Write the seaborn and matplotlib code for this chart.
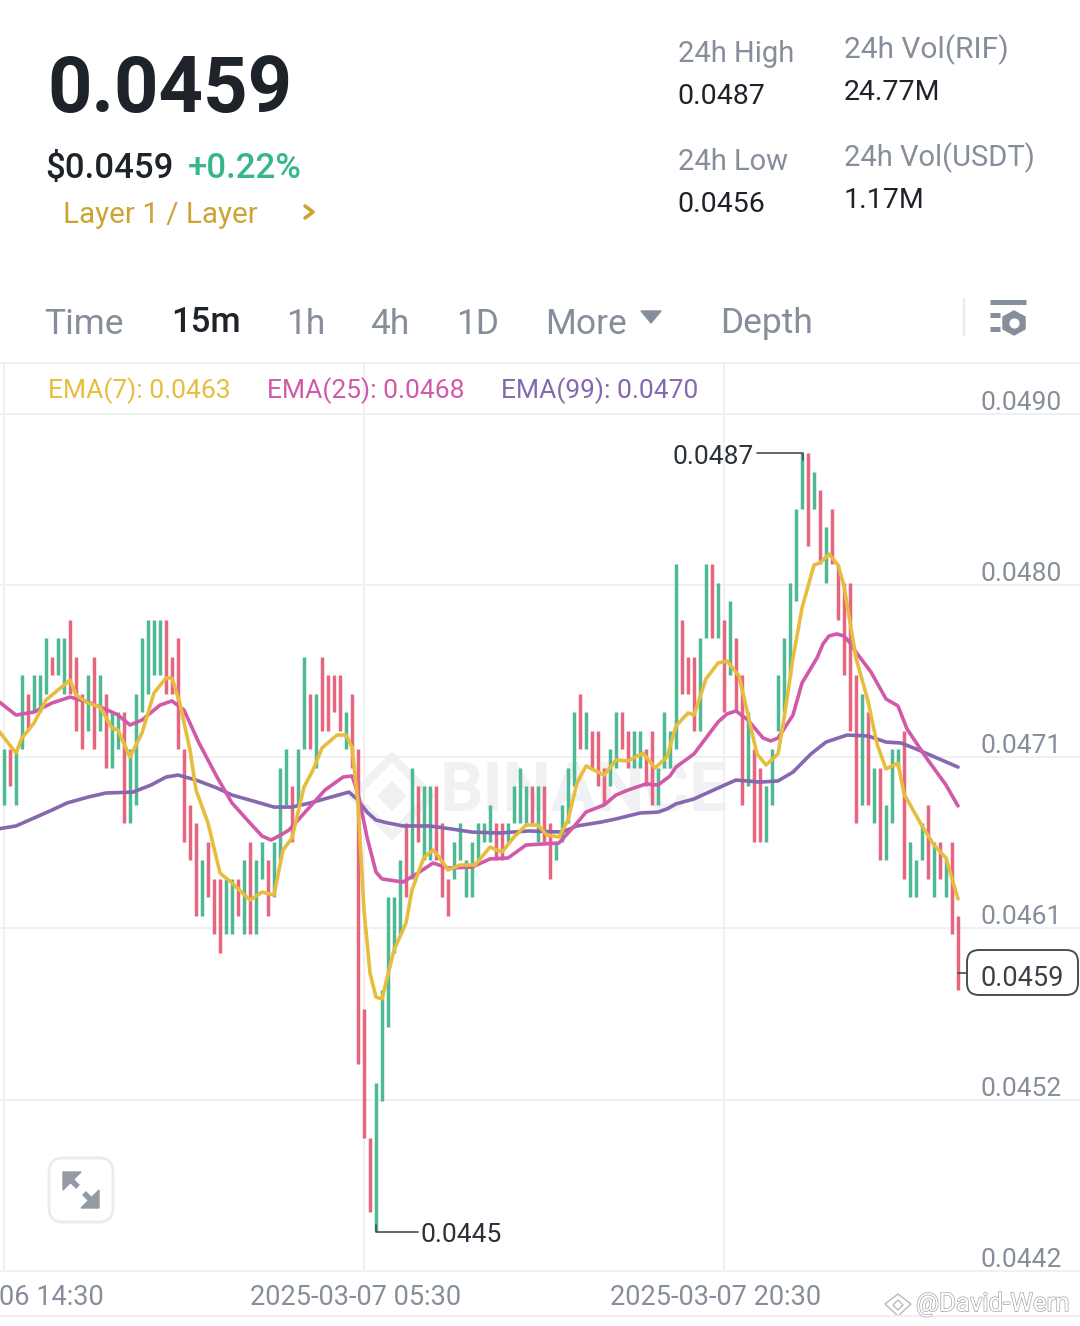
import matplotlib
matplotlib.use("Agg")
import matplotlib.patheffects as pe
import matplotlib.pyplot as plt
import pandas as pd
import seaborn as sns
from matplotlib.patches import FancyBboxPatch, Polygon
from matplotlib.transforms import ScaledTranslation

GREEN = "#4fb895"
RED = "#e6667f"
YELLOW = "#e7bd3d"
MAGENTA = "#d259a9"
PURPLE = "#8667b0"
GRID = "#eef0f2"
GREY = "#858e9a"
DARK = "#1e2329"
GOLD = "#cda434"

# one entry per 15m candle
candle_high = [
    .0471, .0471, .0471, .0475, .0474, .0475, .0475, .0477, .0476, .0477,
    .0477, .0478, .0476, .0474, .0475, .0476, .0475, .0474, .0473, .0473,
    .0473, .0471, .0474, .0477, .0478, .0478, .0478, .0478, .0476, .0477,
    .0471, .0468, .0467, .0465, .0466, .0464, .0464, .0464, .0464, .0464,
    .0465, .0466, .0465, .0466, .0465, .0466, .0470, .0471, .0469, .0471,
    .0476, .0474, .0474, .0476, .0475, .0475, .0475, .0473, .0474, .0471,
    .0457, .0450, .0453, .0458, .0463, .0463, .0465, .0467, .0470, .0469,
    .0469, .0469, .0469, .0467, .0464, .0466, .0467, .0465, .0466, .0467,
    .0467, .0468, .0467, .0467, .0467, .0469, .0470, .0469, .0469, .0469,
    .0469, .0467, .0466, .0468, .0470, .0473, .0474, .0473, .0472, .0472,
    .0470, .0471, .0473, .0473, .0472, .0472, .0472, .0471, .0472, .0470,
    .0473, .0472, .0481, .0478, .0476, .0476, .0477, .0481, .0481, .0480,
    .0478, .0479, .0477, .0475, .0473, .0471, .0470, .0469, .0471, .0475,
    .0477, .0480, .0484, .0487, .0487, .0486, .0485, .0483, .0484, .0481,
    .0480, .0480, .0475, .0474, .0473, .0470, .0470, .0468, .0471, .0471,
    .0472, .0466, .0465, .0467, .0468, .0466, .0466, .0465, .0466, .0462,
]
candle_low = [
    .0468, .0469, .0468, .0471, .0472, .0473, .0473, .0474, .0475, .0475,
    .0474, .0474, .0472, .0471, .0472, .0471, .0472, .0470, .0470, .0471,
    .0467, .0467, .0468, .0473, .0474, .0475, .0475, .0474, .0474, .0471,
    .0466, .0465, .0462, .0462, .0463, .0461, .0460, .0461, .0461, .0462,
    .0461, .0461, .0461, .0464, .0462, .0463, .0465, .0468, .0466, .0468,
    .0471, .0471, .0470, .0472, .0472, .0473, .0472, .0471, .0470, .0454,
    .0450, .0446, .0445, .0452, .0456, .0460, .0461, .0463, .0464, .0466,
    .0465, .0465, .0465, .0463, .0462, .0464, .0465, .0463, .0463, .0465,
    .0466, .0466, .0465, .0465, .0466, .0467, .0467, .0467, .0467, .0466,
    .0466, .0464, .0465, .0466, .0467, .0469, .0471, .0471, .0470, .0469,
    .0468, .0469, .0470, .0471, .0470, .0470, .0470, .0469, .0468, .0468,
    .0470, .0470, .0471, .0474, .0474, .0472, .0472, .0477, .0477, .0477,
    .0473, .0475, .0473, .0468, .0469, .0466, .0466, .0466, .0468, .0472,
    .0473, .0475, .0479, .0484, .0482, .0484, .0481, .0480, .0481, .0478,
    .0475, .0472, .0467, .0468, .0468, .0467, .0465, .0465, .0467, .0470,
    .0464, .0463, .0463, .0465, .0464, .0463, .0464, .0463, .0461, .0458,
]
candle_side = (
    "GRGGRGGGRG" "GRRRGRGRGG" "RGGGGGGRRR" "RRRGRRRGGR"
    "GRGGRGGGRG" "GRGRRRRGRR" "RRGGGGGRGR" "GGRRRGGGGG"
    "GGRRGGGGRG" "RRGGGGRGRR" "RGGRRGGRRG" "GGGRRRGGRG"
    "RGRRGRRGGG" "GGGGRGRGRR" "RRRGRGRGGG" "RGGGRGRGRR"
)

ema7_x = [
    -1, 2, 3, 5, 7, 9, 11, 12, 14, 16, 18, 19, 21, 23, 25, 27, 28, 29.3, 31, 32,
    34, 36, 38, 41, 43, 45, 46.5, 48, 50, 51.5, 53, 55.5, 57, 58, 59, 60, 61, 62,
    63, 65, 67, 68, 70, 71.5, 72.5, 74, 76, 78.5, 81, 83, 85, 87, 89, 90.5, 92.5,
    94, 95.5, 97, 100, 102, 104, 106.5, 108.5, 110.5, 112, 114, 115, 117, 119,
    120.5, 122.5, 124, 125.5, 127, 129, 130, 131.5, 133, 135, 136, 137.5, 139,
    140, 142, 144, 145.5, 147, 149, 150, 153, 155, 157, 159,
]
ema7 = [
    .047204, .047080, .047161, .047242, .047366, .047420, .047474, .047393,
    .047350, .047328, .047215, .047204, .047058, .047188, .047404, .047485,
    .047485, .047350, .047096, .046880, .046702, .046432, .046378, .046286,
    .046329, .046313, .046556, .046621, .046896, .046988, .047107, .047177,
    .047177, .047112, .046810, .046232, .045892, .045762, .045752, .046016,
    .046162, .046340, .046518, .046556, .046518, .046448, .046475, .046475,
    .046572, .046545, .046626, .046691, .046691, .046637, .046626, .046718,
    .046918, .047010, .046961, .047042, .047037, .047080, .046999, .047058,
    .047226, .047296, .047285, .047480, .047566, .047577, .047496, .047285,
    .047075, .047015, .047075, .047264, .047593, .047863, .048095, .048106,
    .048155, .048095, .047982, .047593, .047361, .047129, .046994, .047026,
    .046859, .046686, .046583, .046513, .046292,
]

ema25_x = [
    -1, 2, 5, 8, 11, 14, 18, 19, 21, 23, 26, 28, 30, 32.5, 35.5, 38, 41, 43, 44.5,
    46, 47.5, 50.5, 53.5, 56.5, 58, 59, 60.5, 62, 63, 66.5, 69, 71.5, 74, 78, 81, 84,
    87, 92.5, 95.5, 97, 100, 102, 104, 107, 109, 111, 112, 115, 119, 120.5, 122, 124,
    126.5, 127.8, 129, 131.5, 133, 135.5, 136.5, 137.5, 138.8, 140, 141, 142, 144.5,
    147, 149, 150.5, 153.5, 157, 159,
]
ema25 = [
    .047361, .047285, .047301, .047350, .047382, .047355, .047301, .047285,
    .047231, .047258, .047339, .047361, .047312, .047134, .046950, .046810,
    .046702, .046632, .046610, .046635, .046664, .046772, .046880, .046950, .046956,
    .046864, .046626, .046437, .046400, .046383, .046432, .046486, .046459, .046464,
    .046508, .046513, .046583, .046594, .046702, .046761, .046799, .046853,
    .046880, .046913, .046907, .046956, .047004, .047075, .047247, .047291, .047307,
    .047258, .047161, .047145, .047161, .047285, .047458, .047593, .047669, .047712,
    .047723, .047712, .047674, .047625, .047517, .047372, .047334, .047210, .047064,
    .046907, .046794,
]

ema99_x = [
    -1, 2, 5, 8, 10.5, 14, 17, 21.5, 24.5, 27, 29, 32, 35.5, 38, 41.5, 45, 48,
    51, 54.5, 57.5, 59, 60.5, 62, 64, 66.5, 71, 74.5, 78, 82.5, 87.5, 93, 95.5,
    99.5, 102, 106, 109, 110.5, 112, 115, 119, 122, 126, 129, 131.5, 134.5, 137,
    140.5, 144, 147, 149.5, 152, 155.5, 159,
]
ema99 = [
    .046670, .046686, .046729, .046772, .046810, .046842, .046864, .046869,
    .046907, .046950, .046961, .046934, .046891, .046853, .046821, .046788,
    .046788, .046810, .046842, .046869, .046826, .046761, .046718, .046702,
    .046686, .046686, .046670, .046653, .046648, .046659, .046653, .046686,
    .046707, .046724, .046756, .046761, .046778, .046805, .046832, .046891,
    .046934, .046923, .046929, .046977, .047075, .047139, .047177, .047172,
    .047139, .047134, .047102, .047053, .047004,
]

price_ticks = [.048911, .047985, .047058, .046135, .045206, .044283]
price_labels = ["0.0490", "0.0480", "0.0471", "0.0461", "0.0452", "0.0442"]
time_ticks = [0, 60, 120]
time_labels = ["06 14:30", "2025-03-07 05:30", "2025-03-07 20:30"]

sns.set_theme(style="white")
plt.rcParams["font.family"] = ["Roboto", "DejaVu Sans"]

fig = plt.figure(figsize=(10.8, 13.26), dpi=100, facecolor="white")

# pixel-space layers behind and in front of the chart
bg = fig.add_axes([0, 0, 1, 1], zorder=0)
ui = fig.add_axes([0, 0, 1, 1], zorder=2)
for layer in (bg, ui):
    layer.set_xlim(0, 1080)
    layer.set_ylim(1326, 0)
    layer.axis("off")
ui.patch.set_alpha(0)

ax = fig.add_axes([0, 1 - 1272 / 1326, 1, (1272 - 364) / 1326], zorder=1)
ax.patch.set_alpha(0)
sns.despine(ax=ax, left=True, bottom=True, right=True, top=True)

candles = pd.DataFrame({"high": candle_high, "low": candle_low, "side": list(candle_side)})
candles["x"] = candles.index
candles["color"] = candles["side"].map({"G": GREEN, "R": RED})
ax.vlines(candles["x"], candles["low"], candles["high"], colors=candles["color"],
          linewidth=2.5, capstyle="butt", zorder=3)

for xs, ys, color in ((ema99_x, ema99, PURPLE), (ema25_x, ema25, MAGENTA), (ema7_x, ema7, YELLOW)):
    line = pd.DataFrame({"x": xs, "y": ys})
    sns.lineplot(data=line, x="x", y="y", ax=ax, color=color, linewidth=2.6, estimator=None,
                 sort=False, zorder=4, solid_joinstyle="round")

ax.set_xlim(-4 / 6, 1076 / 6)
ax.set_ylim(.0442774, .0491806)
ax.set_xlabel("")
ax.set_ylabel("")
ax.yaxis.tick_right()
ax.set_yticks(price_ticks, price_labels)
ax.set_xticks(time_ticks, time_labels)
ax.grid(True, color=GRID, linewidth=1.4, zorder=0)
ax.tick_params(axis="y", length=0, pad=-13, labelsize=19, labelcolor=GREY)
ax.tick_params(axis="x", length=0, pad=8.5, labelsize=19.5, labelcolor=GREY)
for label in ax.get_yticklabels():
    label.set_ha("right")
    label.set_va("bottom")
    label.set_transform(label.get_transform() + ScaledTranslation(0, -1 / 100, fig.dpi_scale_trans))
for label, shift in zip(ax.get_xticklabels(), (47, -8, -8)):
    label.set_transform(label.get_transform() + ScaledTranslation(shift / 100, 0, fig.dpi_scale_trans))

# BINANCE watermark behind the candles
bg.add_patch(Polygon([(392, 757), (431, 796), (392, 835), (353, 796)], closed=True,
                     facecolor="none", edgecolor="#f0f1f3", linewidth=6))
bg.add_patch(Polygon([(392, 782), (406, 796), (392, 810), (378, 796)], closed=True, color="#f0f1f3"))
bg.text(440, 793, "BINANCE", fontsize=49, fontweight="bold", color="#f0f1f3", va="center", ha="left")

# header
ui.text(47, 91, "0.0459", fontsize=56, fontweight="bold", color=DARK, va="center")
ui.text(45, 168, "$0.0459", fontsize=25, fontweight="medium", color=DARK, va="center")
ui.text(188, 168, "+0.22%", fontsize=25, fontweight="medium", color="#38b58b", va="center")
ui.text(63, 215, "Layer 1 / Layer", fontsize=21.3, color=GOLD, va="center")
ui.plot([305, 313, 305], [206, 212, 218], color=GOLD, linewidth=2.6)

for x, y, text, color, size in (
    (678, 54, "24h High", GREY, 21), (677, 96, "0.0487", DARK, 20.5),
    (678, 162, "24h Low", GREY, 21), (677, 204, "0.0456", DARK, 20.5),
    (844, 50, "24h Vol(RIF)", GREY, 21.5), (844, 93, "24.77M", DARK, 20.5),
    (844, 158, "24h Vol(USDT)", GREY, 21), (844, 200, "1.17M", DARK, 20.5),
):
    ui.text(x, y, text, fontsize=size, color=color, va="center")

# interval tabs
for x, text in ((44, "Time"), (286, "1h"), (370, "4h"), (456, "1D"), (545, "More"), (720, "Depth")):
    ui.text(x, 324, text, fontsize=25.5, color=GREY, va="center")
ui.text(171, 323, "15m", fontsize=25, fontweight="medium", color=DARK, va="center")
ui.add_patch(Polygon([(641, 311), (661, 311), (651, 323)], closed=True, color=GREY))
ui.plot([964, 964], [299, 335], color="#e8eaed", linewidth=1.6)
ui.plot([990, 1026], [302, 302], color=GREY, linewidth=3.6, solid_capstyle="butt")
ui.plot([990, 1000], [315, 315], color=GREY, linewidth=3.6, solid_capstyle="butt")
ui.plot([990, 1000], [329, 329], color=GREY, linewidth=3.6, solid_capstyle="butt")
ui.add_patch(Polygon([(1014, 311), (1025, 317), (1025, 329), (1014, 335), (1003, 329), (1003, 317)],
                     closed=True, color=GREY))
ui.scatter([1014], [323], s=40, color="white", zorder=5)
ui.plot([0, 1080], [363, 363], color=GRID, linewidth=1.4)
ui.plot([0, 1080], [1316, 1316], color=GRID, linewidth=1.4)

# indicator legend
ui.text(48, 391, "EMA(7): 0.0463", fontsize=19, color=YELLOW, va="center")
ui.text(267, 391, "EMA(25): 0.0468", fontsize=19, color=MAGENTA, va="center")
ui.text(501, 391, "EMA(99): 0.0470", fontsize=19, color=PURPLE, va="center")

# high / low callouts
ui.text(754, 457, "0.0487", fontsize=19, color="#2b3139", va="center", ha="right")
ui.plot([757, 803, 803], [453, 453, 460], color="#474d57", linewidth=1.2)
ui.text(421, 1235, "0.0445", fontsize=19, color="#2b3139", va="center")
ui.plot([376, 376, 418], [1225, 1232, 1232], color="#474d57", linewidth=1.2)

# last price box
ui.add_patch(FancyBboxPatch((977, 960), 91, 25, boxstyle="round,pad=10,rounding_size=12",
                            facecolor="white", edgecolor="#474d57", linewidth=1.4, zorder=6))
ui.text(1022, 979, "0.0459", fontsize=19.5, color="#3b4149", va="center", ha="center", zorder=7)
ui.plot([958, 967], [973, 973], color="#474d57", linewidth=1.2)

# expand button
ui.add_patch(FancyBboxPatch((61, 1170), 40, 40, boxstyle="round,pad=12,rounding_size=14",
                            facecolor="white", edgecolor="#e9ebee", linewidth=2))
ui.add_patch(Polygon([(63, 1172), (81, 1172), (63, 1190)], closed=True, color="#929aa5"))
ui.add_patch(Polygon([(99, 1208), (81, 1208), (99, 1190)], closed=True, color="#929aa5"))
ui.plot([72, 78], [1181, 1187], color="#929aa5", linewidth=4, solid_capstyle="butt")
ui.plot([84, 90], [1193, 1199], color="#929aa5", linewidth=4, solid_capstyle="butt")

# feed credit, white glyphs with a thin outline
credit = ui.text(916, 1304, "@David-Wern", fontsize=18.5, color="white", va="center")
credit.set_path_effects([pe.withStroke(linewidth=1.1, foreground="#a9adb3")])
ui.add_patch(Polygon([(898, 1294), (911, 1304), (898, 1316), (885, 1304)], closed=True,
                     facecolor="white", edgecolor="#b5b9be", linewidth=1))
ui.add_patch(Polygon([(898, 1300), (903, 1305), (898, 1310), (893, 1305)], closed=True,
                     facecolor="white", edgecolor="#b5b9be", linewidth=1))

fig.savefig("out.png", dpi=100)
plt.close(fig)
